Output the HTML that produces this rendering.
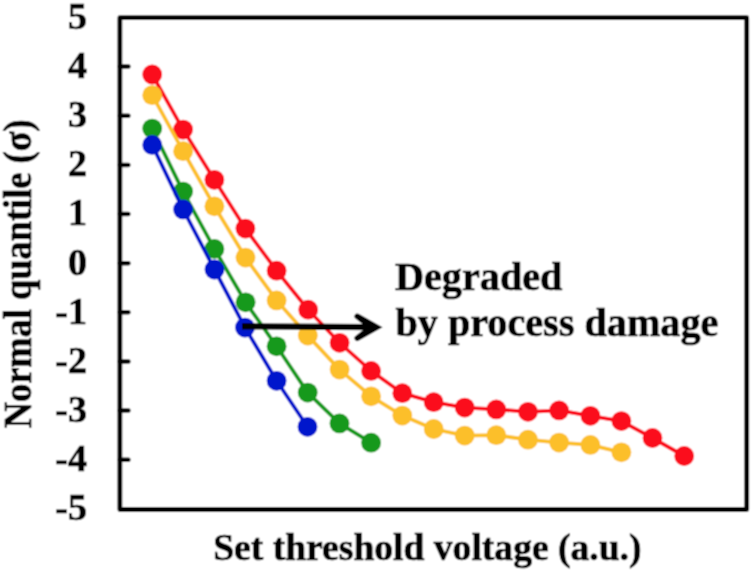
<!DOCTYPE html>
<html><head><meta charset="utf-8"><style>
html,body{margin:0;padding:0;background:#fff;}
body{width:754px;height:572px;overflow:hidden;}
svg{display:block;}
text{font-family:"Liberation Serif","Times New Roman",serif;font-weight:bold;fill:#000;stroke:#000;stroke-width:0.7px;}
</style></head><body>
<svg width="754" height="572" viewBox="0 0 754 572">
<defs><filter id="s" filterUnits="userSpaceOnUse" x="0" y="0" width="754" height="572"><feConvolveMatrix order="3" kernelMatrix="1 2 1 2 4 2 1 2 1" divisor="16"/></filter></defs>
<g filter="url(#s)">
<rect width="754" height="572" fill="#fff"/>
<rect x="119.85" y="17.7" width="626.85" height="491.8" fill="none" stroke="#000" stroke-width="4.8" stroke-linejoin="round"/>
<g stroke="#000" stroke-width="4.5" stroke-linecap="round"><line x1="119.8" x2="128.4" y1="66.6" y2="66.6"/><line x1="119.8" x2="128.4" y1="115.8" y2="115.8"/><line x1="119.8" x2="128.4" y1="164.9" y2="164.9"/><line x1="119.8" x2="128.4" y1="214.0" y2="214.0"/><line x1="119.8" x2="128.4" y1="263.2" y2="263.2"/><line x1="119.8" x2="128.4" y1="312.3" y2="312.3"/><line x1="119.8" x2="128.4" y1="361.5" y2="361.5"/><line x1="119.8" x2="128.4" y1="410.6" y2="410.6"/><line x1="119.8" x2="128.4" y1="459.8" y2="459.8"/></g>
<g font-size="38" text-anchor="end"><text x="87" y="28.8">5</text><text x="87" y="77.9">4</text><text x="87" y="127.0">3</text><text x="87" y="176.2">2</text><text x="87" y="225.3">1</text><text x="87" y="274.5">0</text><text x="87" y="323.6">-1</text><text x="87" y="372.8">-2</text><text x="87" y="421.9">-3</text><text x="87" y="471.1">-4</text><text x="87" y="520.2">-5</text></g>
<polyline fill="none" stroke="#fb0e1e" stroke-width="3.8" stroke-linejoin="round" points="152.2,74.5 183.1,129.6 214.4,179.8 245.4,228.6 276.6,270.7 308.2,309.7 339.6,342.8 371.1,370.9 402.3,393.2 433.7,402.2 464.7,407.6 496.3,409.4 528.0,411.8 559.1,410.4 590.4,415.8 621.4,421.1 652.5,438.0 684.2,456.0"/>
<circle cx="152.2" cy="74.5" r="9.9" fill="#fb0e1e"/><circle cx="183.1" cy="129.6" r="9.9" fill="#fb0e1e"/><circle cx="214.4" cy="179.8" r="9.9" fill="#fb0e1e"/><circle cx="245.4" cy="228.6" r="9.9" fill="#fb0e1e"/><circle cx="276.6" cy="270.7" r="9.9" fill="#fb0e1e"/><circle cx="308.2" cy="309.7" r="9.9" fill="#fb0e1e"/><circle cx="339.6" cy="342.8" r="9.9" fill="#fb0e1e"/><circle cx="371.1" cy="370.9" r="9.9" fill="#fb0e1e"/><circle cx="402.3" cy="393.2" r="9.9" fill="#fb0e1e"/><circle cx="433.7" cy="402.2" r="9.9" fill="#fb0e1e"/><circle cx="464.7" cy="407.6" r="9.9" fill="#fb0e1e"/><circle cx="496.3" cy="409.4" r="9.9" fill="#fb0e1e"/><circle cx="528.0" cy="411.8" r="9.9" fill="#fb0e1e"/><circle cx="559.1" cy="410.4" r="9.9" fill="#fb0e1e"/><circle cx="590.4" cy="415.8" r="9.9" fill="#fb0e1e"/><circle cx="621.4" cy="421.1" r="9.9" fill="#fb0e1e"/><circle cx="652.5" cy="438.0" r="9.9" fill="#fb0e1e"/><circle cx="684.2" cy="456.0" r="9.9" fill="#fb0e1e"/>
<polyline fill="none" stroke="#fcbf2c" stroke-width="3.8" stroke-linejoin="round" points="152.2,95.2 183.1,151.2 214.4,206.3 245.5,257.6 276.6,300.4 307.8,335.6 339.6,369.6 371.1,396.3 402.3,415.6 433.7,429.0 464.7,435.6 496.3,435.2 528.0,439.7 559.1,442.6 590.4,444.9 621.4,452.3"/>
<circle cx="152.2" cy="95.2" r="9.9" fill="#fcbf2c"/><circle cx="183.1" cy="151.2" r="9.9" fill="#fcbf2c"/><circle cx="214.4" cy="206.3" r="9.9" fill="#fcbf2c"/><circle cx="245.5" cy="257.6" r="9.9" fill="#fcbf2c"/><circle cx="276.6" cy="300.4" r="9.9" fill="#fcbf2c"/><circle cx="307.8" cy="335.6" r="9.9" fill="#fcbf2c"/><circle cx="339.6" cy="369.6" r="9.9" fill="#fcbf2c"/><circle cx="371.1" cy="396.3" r="9.9" fill="#fcbf2c"/><circle cx="402.3" cy="415.6" r="9.9" fill="#fcbf2c"/><circle cx="433.7" cy="429.0" r="9.9" fill="#fcbf2c"/><circle cx="464.7" cy="435.6" r="9.9" fill="#fcbf2c"/><circle cx="496.3" cy="435.2" r="9.9" fill="#fcbf2c"/><circle cx="528.0" cy="439.7" r="9.9" fill="#fcbf2c"/><circle cx="559.1" cy="442.6" r="9.9" fill="#fcbf2c"/><circle cx="590.4" cy="444.9" r="9.9" fill="#fcbf2c"/><circle cx="621.4" cy="452.3" r="9.9" fill="#fcbf2c"/>
<polyline fill="none" stroke="#16991a" stroke-width="3.8" stroke-linejoin="round" points="152.2,128.6 183.1,191.6 214.4,248.9 245.6,302.3 276.6,346.3 307.7,392.6 339.5,423.4 371.1,442.7"/>
<circle cx="152.2" cy="128.6" r="9.9" fill="#16991a"/><circle cx="183.1" cy="191.6" r="9.9" fill="#16991a"/><circle cx="214.4" cy="248.9" r="9.9" fill="#16991a"/><circle cx="245.6" cy="302.3" r="9.9" fill="#16991a"/><circle cx="276.6" cy="346.3" r="9.9" fill="#16991a"/><circle cx="307.7" cy="392.6" r="9.9" fill="#16991a"/><circle cx="339.5" cy="423.4" r="9.9" fill="#16991a"/><circle cx="371.1" cy="442.7" r="9.9" fill="#16991a"/>
<polyline fill="none" stroke="#0316cc" stroke-width="3.8" stroke-linejoin="round" points="152.2,144.9 183.1,209.4 214.5,269.5 245.0,327.6 276.6,380.8 307.5,426.8"/>
<circle cx="152.2" cy="144.9" r="9.9" fill="#0316cc"/><circle cx="183.1" cy="209.4" r="9.9" fill="#0316cc"/><circle cx="214.5" cy="269.5" r="9.9" fill="#0316cc"/><circle cx="245.0" cy="327.6" r="9.9" fill="#0316cc"/><circle cx="276.6" cy="380.8" r="9.9" fill="#0316cc"/><circle cx="307.5" cy="426.8" r="9.9" fill="#0316cc"/>

<line x1="242" y1="326.3" x2="372" y2="327.1" stroke="#000" stroke-width="6.2"/>
<path d="M382.60,327.30 L358.57,313.86 A2.80,2.80 0 0 0 355.45,318.49 L366.50,327.30 L355.45,336.11 A2.80,2.80 0 0 0 358.57,340.74 Z" fill="#000"/>
<text x="395.0" y="290.0" font-size="40.2">Degraded</text>
<text x="395.4" y="336" font-size="40.2">by process damage</text>
<text x="213.2" y="560.2" font-size="37.6">Set threshold voltage (a.u.)</text>
<text transform="translate(30.6,428.3) rotate(-90) scale(0.910,1)" font-size="40">Normal quantile (σ)</text>
</g></svg>
</body></html>
